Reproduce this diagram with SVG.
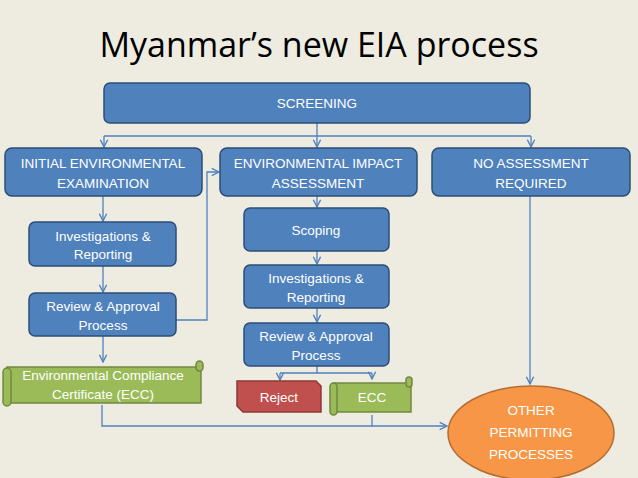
<svg xmlns="http://www.w3.org/2000/svg" width="638" height="478" viewBox="0 0 638 478">
<defs>
<marker id="ar" viewBox="0 0 10 10" refX="9" refY="5" markerWidth="7" markerHeight="7" orient="auto"><path d="M1,1 L9,5 L1,9" fill="none" stroke="#4f81bd" stroke-width="1.5"/></marker>
</defs>
<style>
.b{fill:#4f81bd;stroke:#2c4d75;stroke-width:1.5}
.g{fill:#9bbb59;stroke:#71893f;stroke-width:1.5}
.t{fill:#fff;font-family:"Liberation Sans",Arial,sans-serif;font-size:13.5px;text-anchor:middle}
.c{fill:none;stroke:#4f81bd;stroke-width:1.3}
</style>
<rect width="638" height="478" fill="#eeece1"/>
<text x="319" y="57" font-family="Open Sans,Liberation Sans,sans-serif" font-size="34" fill="#000" text-anchor="middle">Myanmar’s new EIA process</text>
<g id="connectors">
<path class="c" d="M317,123 V136 M104,136 H531"/>
<path class="c" marker-end="url(#ar)" d="M104,136 V147"/>
<path class="c" marker-end="url(#ar)" d="M317,136 V147"/>
<path class="c" marker-end="url(#ar)" d="M531,136 V147"/>
<path class="c" marker-end="url(#ar)" d="M103,196 V221"/>
<path class="c" marker-end="url(#ar)" d="M103,266 V292"/>
<path class="c" marker-end="url(#ar)" d="M103,336 V362"/>
<path class="c" marker-end="url(#ar)" d="M176,320 H207 V172 H219"/>
<path class="c" marker-end="url(#ar)" d="M317,196 V207"/>
<path class="c" marker-end="url(#ar)" d="M317,251 V264"/>
<path class="c" marker-end="url(#ar)" d="M317,308 V322"/>
<path class="c" d="M317,366 V373 M280,373 H372"/>
<path class="c" marker-end="url(#ar)" d="M280,373 V380"/>
<path class="c" marker-end="url(#ar)" d="M372,373 V379"/>
<path class="c" marker-end="url(#ar)" d="M530,196 V384"/>
<path class="c" marker-end="url(#ar)" d="M102,405 V426 H447"/>
<path class="c" d="M372,415 V426"/>
</g>
<g id="screening"><rect class="b" x="104" y="83" width="426" height="40" rx="6"/><text class="t" x="317" y="108">SCREENING</text></g>
<g id="iee"><rect class="b" x="5" y="148" width="197" height="48" rx="7"/><text class="t" x="103" y="168">INITIAL ENVIRONMENTAL</text><text class="t" x="103" y="188">EXAMINATION</text></g>
<g id="eia"><rect class="b" x="220" y="148" width="197" height="48" rx="7"/><text class="t" x="318" y="168">ENVIRONMENTAL IMPACT</text><text class="t" x="318" y="188">ASSESSMENT</text></g>
<g id="nar"><rect class="b" x="432" y="148" width="198" height="48" rx="7"/><text class="t" x="531" y="168">NO ASSESSMENT</text><text class="t" x="531" y="188">REQUIRED</text></g>
<g id="inv1"><rect class="b" x="29" y="222" width="147" height="44" rx="6"/><text class="t" x="103" y="241">Investigations &amp;</text><text class="t" x="103" y="259">Reporting</text></g>
<g id="rev1"><rect class="b" x="29" y="293" width="147" height="43" rx="6"/><text class="t" x="103" y="311">Review &amp; Approval</text><text class="t" x="103" y="330">Process</text></g>
<g id="ecc1"><path class="g" d="M7,367 H201 V403 H7 Z"/><rect class="g" x="3" y="368" width="8" height="38" rx="4"/><rect class="g" x="196" y="361" width="7" height="10" rx="3.5"/><text class="t" x="103" y="380">Environmental Compliance</text><text class="t" x="103" y="399">Certificate (ECC)</text></g>
<g id="scoping"><rect class="b" x="244" y="208" width="145" height="43" rx="6"/><text class="t" x="316" y="235">Scoping</text></g>
<g id="inv2"><rect class="b" x="244" y="265" width="145" height="43" rx="6"/><text class="t" x="316" y="283">Investigations &amp;</text><text class="t" x="316" y="302">Reporting</text></g>
<g id="rev2"><rect class="b" x="244" y="323" width="145" height="43" rx="6"/><text class="t" x="316" y="341">Review &amp; Approval</text><text class="t" x="316" y="360">Process</text></g>
<g id="reject"><path d="M239,381 H316 L321,386 V412 H243 L237,406 V381 Z" fill="#c0504d" stroke="#8c3836" stroke-width="1.5"/><text class="t" x="279" y="402">Reject</text></g>
<g id="ecc2"><path class="g" d="M334,383 H411 V412 H334 Z"/><rect class="g" x="330" y="383" width="7" height="32" rx="3.5"/><rect class="g" x="406" y="377" width="6" height="10" rx="3"/><text class="t" x="372" y="402">ECC</text></g>
<g id="other"><ellipse cx="531" cy="433" rx="83" ry="47" fill="#f79646" stroke="#b66d31" stroke-width="1.5"/><text class="t" x="531" y="415">OTHER</text><text class="t" x="531" y="437">PERMITTING</text><text class="t" x="531" y="459">PROCESSES</text></g>
</svg>
